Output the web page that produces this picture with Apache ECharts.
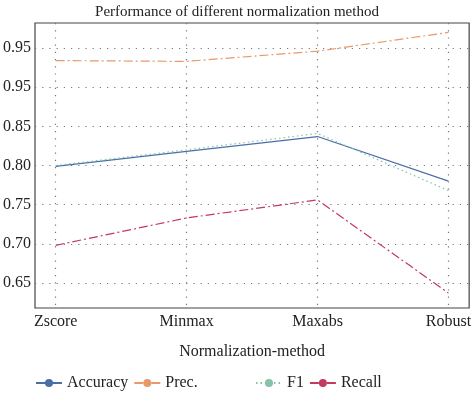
<!DOCTYPE html>
<html><head><meta charset="utf-8">
<script src="https://cdn.jsdelivr.net/npm/echarts@6/dist/echarts.min.js"></script>
<style>html,body{margin:0;padding:0;background:#fff}#c{width:474px;height:411px}</style>
</head><body><div id="c"></div>
<script>
const categories = ["Zscore", "Minmax", "Maxabs", "Robust"];
const accuracy = [0.799, 0.818, 0.837, 0.780];
const prec = [0.934, 0.933, 0.946, 0.970];
const f1 = [0.800, 0.820, 0.841, 0.768];
const recall = [0.698, 0.733, 0.756, 0.637];
const yTickValues = [0.65, 0.70, 0.75, 0.80, 0.85, 0.90, 0.95];
const yTickLabels = ["0.65", "0.70", "0.75", "0.80", "0.85", "0.95", "0.95"];

const F = "Liberation Serif";
const chart = echarts.init(document.getElementById('c'));
const pts = arr => arr.map((v, i) => [i, v]);
const dashDot = [9, 3, 2, 3];
const series = [
  {name: "Accuracy", data: pts(accuracy), color: "#4a6ea8", type: "solid"},
  {name: "Prec.", data: pts(prec), color: "#e8996a", type: dashDot},
  {name: "F1", data: pts(f1), color: "#86c2a6", type: [1.5, 3]},
  {name: "Recall", data: pts(recall), color: "#c23a5c", type: dashDot}
].map(s => ({
  name: s.name, type: "line", data: s.data, symbol: "none",
  color: s.color, lineStyle: {width: 1.2, type: s.type, color: s.color}
}));
const legendBase = {orient: "vertical", itemWidth: 26, itemHeight: 10, itemGap: 5,
  textStyle: {fontFamily: F, fontSize: 16, color: "#222"}};
chart.setOption({
  animation: false,
  title: {text: "Performance of different normalization method", left: "center", top: 0,
    textStyle: {fontFamily: F, fontSize: 15, fontWeight: "normal", color: "#222"}},
  grid: {left: 32, right: 1, top: 23, bottom: 103, show: true, borderColor: "#444", borderWidth: 1.2},
  xAxis: {type: "value", min: -0.158, max: 3.158,
    name: "Normalization-method", nameLocation: "middle", nameGap: 36,
    nameTextStyle: {fontFamily: F, fontSize: 16, color: "#222"},
    axisLine: {show: false}, axisTick: {show: false, customValues: [0,1,2,3]},
    axisLabel: {customValues: [0,1,2,3], formatter: v => categories[Math.round(v)] || "",
      fontFamily: F, fontSize: 16, color: "#222", margin: 6},
    splitLine: {show: true, lineStyle: {color: "#777", width: 1.2, type: [1.2, 6]}}},
  yAxis: {type: "value", min: 0.618, max: 0.982,
    axisLine: {show: false}, axisTick: {show: false, customValues: yTickValues},
    axisLabel: {customValues: yTickValues,
      formatter: v => { const i = yTickValues.findIndex(t => Math.abs(t - v) < 1e-6); return i >= 0 ? yTickLabels[i] : ""; },
      fontFamily: F, fontSize: 16, color: "#222", margin: 4},
    splitLine: {show: true, lineStyle: {color: "#777", width: 1.2, type: [1.2, 6]}}},
  legend: [
    Object.assign({}, legendBase, {data: ["Accuracy", "Prec."], left: 30, top: 370}),
    Object.assign({}, legendBase, {data: ["F1", "Recall"], left: 250, top: 370})
  ],
  series: series
});
</script></body></html>
